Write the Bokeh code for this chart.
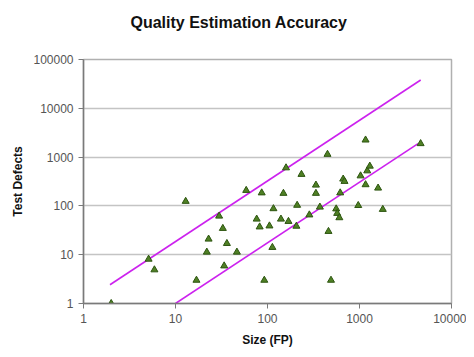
from bokeh.plotting import figure
from bokeh.models import Range1d, FixedTicker, ColumnDataSource, Title
from bokeh.embed import file_html
from bokeh.resources import INLINE

# --- data ---
size_fp = [2, 5.1, 5.9, 12.9, 16.9, 21.9, 22.9, 29.8, 32.7, 33.8, 36.2, 46.5,
           58.7, 76.3, 82.2, 86.5, 92.3, 105, 113, 116, 140, 149, 159, 169,
           206, 210, 234, 285, 336, 336, 371, 449, 460, 490, 558, 572, 604,
           617, 665, 687, 969, 1027, 1164, 1164, 1214, 1294, 1592, 1791, 4617]
test_defects = [1, 8.1, 4.9, 124, 3, 11.3, 20.9, 61.8, 34.6, 5.9, 17, 11.3,
                208, 53.7, 37.1, 185, 3, 38.9, 14.1, 87.7, 53.7, 181, 603, 48.1,
                38.4, 103, 443, 65.4, 267, 181, 94.6, 1140, 30, 3, 86.9, 70.3, 57.3,
                185, 355, 318, 102, 413, 272, 2240, 523, 653, 232, 84.9, 1890]

upper_x = [1.94, 4625]
upper_y = [2.42, 38000]
lower_x = [10, 4330]
lower_y = [1.0, 1890]

x_ticks = [1, 10, 100, 1000, 10000]
x_tick_labels = ["1", "10", "100", "1000", "10000"]
y_ticks = [1, 10, 100, 1000, 10000, 100000]
y_tick_labels = ["1", "10", "100", "1000", "10000", "100000"]

FONT = "Liberation Sans"

p = figure(width=466, height=349, x_axis_type="log", y_axis_type="log",
           x_range=Range1d(1, 10000), y_range=Range1d(1, 100000),
           output_backend="svg", toolbar_location=None,
           min_border_left=83, min_border_right=15,
           min_border_top=59, min_border_bottom=46)

p.title.text = "Quality Estimation Accuracy"
p.title.align = "left"
p.title.offset = 47
p.title.text_font = FONT
p.title.text_font_size = "16px"
p.title.text_font_style = "bold"
p.title.text_color = "#111111"
p.title.standoff = 0

# blank spacer between the title and the plot frame
spacer = Title(text=" ", text_font_size="10px", standoff=16)
p.add_layout(spacer, "above")

p.outline_line_color = "#b0b0b0"
p.outline_line_width = 1.5
p.background_fill_color = "white"
p.border_fill_color = "white"

p.xgrid.visible = False
p.ygrid.grid_line_color = "#c4c4c4"
p.ygrid.grid_line_width = 1.5

for ax, ticks, labels in ((p.xaxis[0], x_ticks, x_tick_labels),
                          (p.yaxis[0], y_ticks, y_tick_labels)):
    ax.ticker = FixedTicker(ticks=ticks, minor_ticks=[])
    ax.major_label_overrides = {t: l for t, l in zip(ticks, labels)}
    ax.major_label_text_font = FONT
    ax.major_label_text_font_size = "12px"
    ax.major_label_text_color = "#555555"
    ax.axis_line_color = "#7a7a7a"
    ax.axis_line_width = 1.5
    ax.major_tick_line_color = "#7a7a7a"
    ax.major_tick_out = 5
    ax.major_tick_in = 0
    ax.minor_tick_out = 0
    ax.minor_tick_in = 0
    ax.axis_label_text_font = FONT
    ax.axis_label_text_font_size = "12px"
    ax.axis_label_text_font_style = "bold"
    ax.axis_label_text_color = "#111111"

p.xaxis.axis_label = "Size (FP)"
p.yaxis.axis_label = "Test Defects"
p.xaxis.major_label_standoff = 5
p.xaxis.axis_label_standoff = 7
p.yaxis.major_label_standoff = 5
p.yaxis.axis_label_standoff = 5

p.line(upper_x, upper_y, line_color="#cc22ee", line_width=1.6)
p.line(lower_x, lower_y, line_color="#cc22ee", line_width=1.6)

src = ColumnDataSource(dict(x=size_fp, y=test_defects))
p.scatter("x", "y", source=src, marker="triangle", size=7,
          fill_color="#4f8024", line_color="#2d5510", line_width=1)

open("out.html", "w").write(file_html(p, INLINE))
